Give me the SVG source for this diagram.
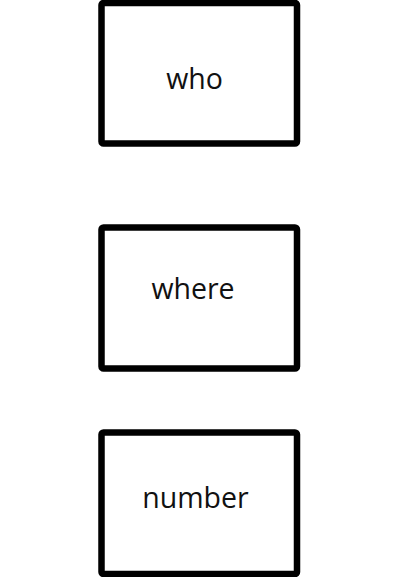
<svg xmlns="http://www.w3.org/2000/svg" width="400" height="577" viewBox="0 0 400 577">
<style>
.box{fill:#fff;stroke:#000;stroke-width:6.5;stroke-linejoin:round}
.lbl{font-family:"Open Sans","Noto Sans","Liberation Sans",sans-serif;font-size:28.5px;fill:#111;text-anchor:middle}
</style>
<rect width="400" height="577" fill="#fff"/>
<g id="connectors"></g>
<g id="who">
<rect class="box" x="101.5" y="3" width="195.5" height="140.5" rx="2"/>
<text class="lbl" x="194.5" y="89">who</text>
</g>
<g id="where">
<rect class="box" x="101.5" y="227.5" width="195.5" height="141" rx="2"/>
<text class="lbl" x="193" y="299">where</text>
</g>
<g id="number">
<rect class="box" x="101.5" y="432.5" width="195.5" height="141.5" rx="2"/>
<text class="lbl" x="195.5" y="508">number</text>
</g>
</svg>
